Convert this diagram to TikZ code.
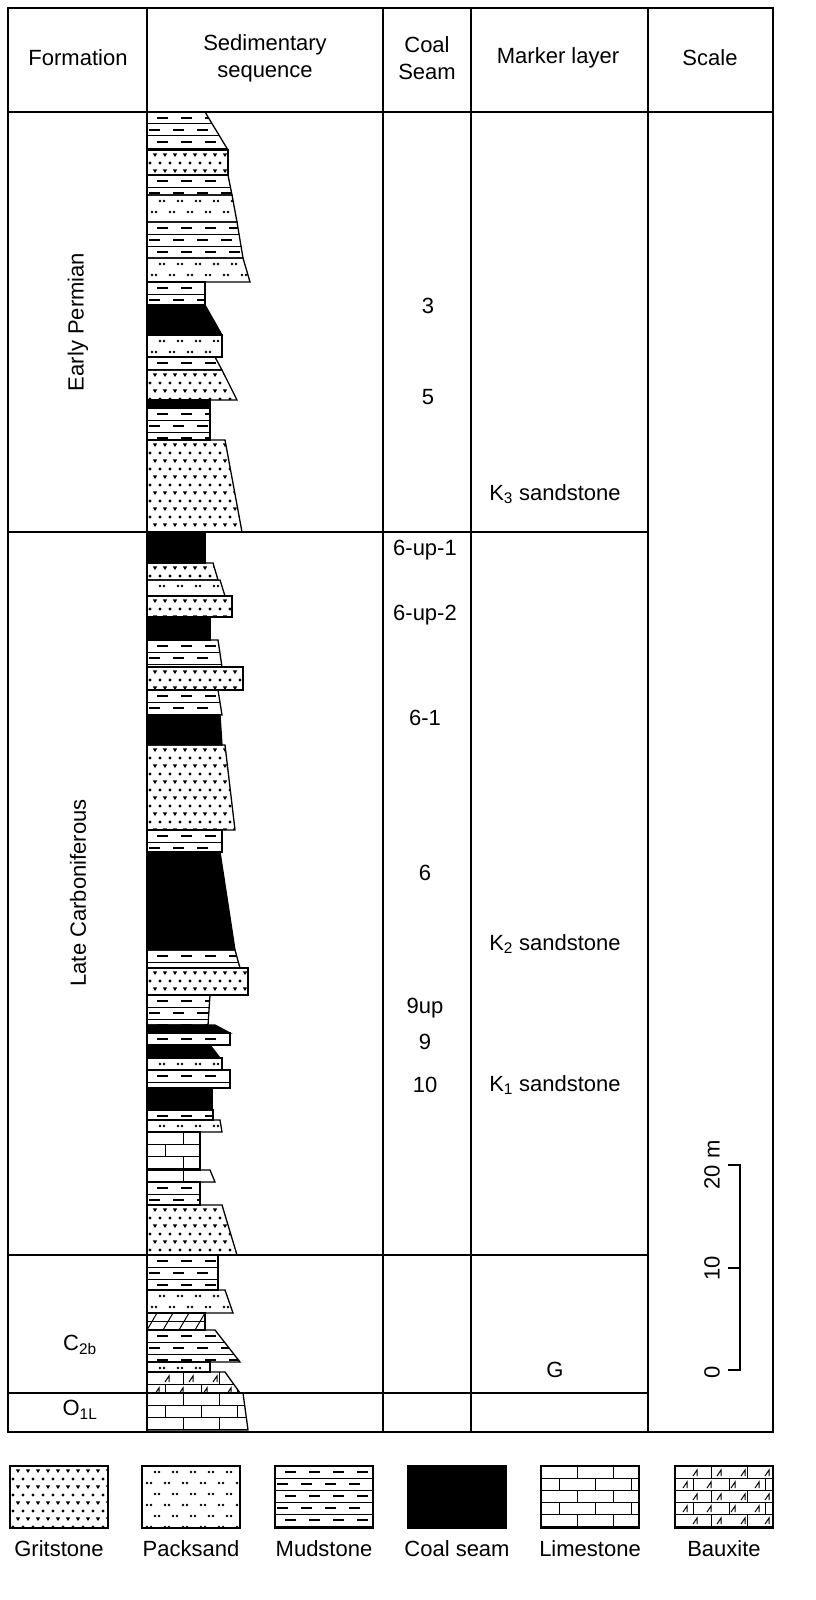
\documentclass[tikz,border=0pt]{standalone}
\usepackage{fontspec}
\setmainfont{Liberation Sans}
\newcommand\patgrit[4]{%
 \pgfmathsetmacro\gya{#2+5}\pgfmathsetmacro\gyb{#2+13}%
 \foreach \yy [count=\i] in {\gya,\gyb,...,#4}{%
   \pgfmathsetmacro\off{mod(\i,2)*5+#1+3}\pgfmathsetmacro\offb{\off+10}%
   \ifodd\i
   \foreach \xx in {\off,\offb,...,#3}{\fill (\xx-2.2,\yy-1.6)--(\xx+2.2,\yy-1.6)--(\xx,\yy+2)--cycle;}%
   \else
   \foreach \xx in {\off,\offb,...,#3}{\fill (\xx,\yy) circle[radius=1.6];}%
   \fi}}
\newcommand\patpack[4]{%
 \pgfmathsetmacro\gya{#2+6}\pgfmathsetmacro\gyb{#2+17}%
 \foreach \yy [count=\i] in {\gya,\gyb,...,#4}{%
   \pgfmathsetmacro\off{mod(\i,2)*8+#1+5}\pgfmathsetmacro\offb{\off+18}%
   \foreach \xx in {\off,\offb,...,#3}{\fill (\xx,\yy) circle[radius=1.3] (\xx+4,\yy) circle[radius=1.3];}}}
\newcommand\patmud[4]{%
 \pgfmathsetmacro\gya{#2+12}\pgfmathsetmacro\gyb{#2+24}%
 \foreach \yy in {\gya,\gyb,...,#4}{\draw[line width=1pt] (#1,\yy)--(#3,\yy);}%
 \pgfmathsetmacro\gya{#2+6}\pgfmathsetmacro\gyb{#2+18}%
 \foreach \yy [count=\i] in {\gya,\gyb,...,#4}{%
   \pgfmathsetmacro\off{mod(\i,2)*8+#1+2}\pgfmathsetmacro\offb{\off+24}%
   \foreach \xx in {\off,\offb,...,#3}{\draw[line width=1.8pt] (\xx,\yy)--(\xx+11,\yy);}}}
\newcommand\patcoal[4]{\fill[black] (#1,#2) rectangle (#3,#4);}
\newcommand\patlime[4]{%
 \pgfmathsetmacro\gya{#2+12}\pgfmathsetmacro\gyb{#2+24}%
 \foreach \yy in {\gya,\gyb,...,#4}{\draw[line width=1pt] (#1,\yy)--(#3,\yy);}%
 \pgfmathsetmacro\gya{#2}\pgfmathsetmacro\gyb{#2+12}%
 \foreach \yy [count=\i] in {\gya,\gyb,...,#4}{%
   \pgfmathsetmacro\off{mod(\i,2)*18+#1+18}\pgfmathsetmacro\offb{\off+36}%
   \foreach \xx in {\off,\offb,...,#3}{\draw[line width=1pt] (\xx,\yy)--(\xx,\yy+12);}}}
\newcommand\patbaux[4]{%
 \patlime{#1}{#2}{#3}{#4}%
 \pgfmathsetmacro\gya{#2+10}\pgfmathsetmacro\gyb{#2+22}%
 \foreach \yy [count=\i] in {\gya,\gyb,...,#4}{%
   \pgfmathsetmacro\off{mod(\i,2)*10+#1+8}\pgfmathsetmacro\offb{\off+24}%
   \foreach \xx in {\off,\offb,...,#3}{\draw[line width=1pt] (\xx,\yy)--(\xx+4,\yy-6)--(\xx+4,\yy);}}}
\newcommand\patmarl[4]{%
 \pgfmathsetmacro\gya{#2+8}\pgfmathsetmacro\gyb{#2+20}%
 \foreach \yy in {#2,\gya,...,#4}{\draw[line width=1pt] (#1,\yy)--(#3,\yy);}%
 \foreach \xx in {#1,\numexpr#1+16\relax,...,#3}{\draw[line width=1pt] (\xx,#4)--(\xx+10,#2);}}
\newcommand\lay[5]{%
 \begin{scope}\clip (147,#1)--(#3,#1)--(#4,#2)--(147,#2)--cycle;
 \csname pat#5\endcsname{147}{#1}{262}{#2}
 \end{scope}
 \draw[line width=1.3pt] (147,#1)--(#3,#1)--(#4,#2)--(147,#2);}
\newcommand\legbox[3]{%
 \begin{scope}\clip (#1,1466) rectangle (#1+98,1528);
 \csname pat#2\endcsname{#1}{1466}{\numexpr#1+98\relax}{1528}
 \end{scope}
 \draw[line width=1.3pt] (#1,1466) rectangle (#1+98,1528);
 \node[lab] (lg#2) at (#1+49,1549) {#3};}
\begin{document}
\begin{tikzpicture}[x=1pt,y=-1pt,
  lab/.style={font=\fontsize{22}{27}\selectfont,inner sep=0pt,align=center},
  tbl/.style={line width=2.2pt}]
\useasboundingbox (0,0) rectangle (815,1600);
% layers
\lay{112}{150}{205}{228}{mud}
\lay{150}{175}{228}{228}{grit}
\lay{175}{195}{228}{232}{mud}
\lay{195}{222}{232}{237}{pack}
\lay{222}{258}{237}{243}{mud}
\lay{258}{282}{243}{250}{pack}
\lay{282}{305}{205}{205}{mud}
\lay{305}{335}{205}{222}{coal}
\lay{335}{357}{222}{222}{pack}
\lay{357}{370}{215}{222}{mud}
\lay{370}{400}{222}{237}{grit}
\lay{400}{408}{210}{210}{coal}
\lay{408}{440}{210}{210}{mud}
\lay{440}{532}{225}{242}{grit}
\lay{532}{563}{205}{205}{coal}
\lay{563}{580}{213}{218}{grit}
\lay{580}{596}{220}{225}{pack}
\lay{596}{617}{232}{232}{grit}
\lay{617}{640}{210}{210}{coal}
\lay{640}{667}{218}{222}{mud}
\lay{667}{690}{243}{243}{grit}
\lay{690}{715}{218}{222}{mud}
\lay{715}{745}{220}{222}{coal}
\lay{745}{830}{225}{235}{grit}
\lay{830}{852}{222}{222}{mud}
\lay{852}{950}{220}{235}{coal}
\lay{950}{968}{235}{240}{mud}
\lay{968}{995}{248}{248}{grit}
\lay{995}{1025}{210}{208}{mud}
\lay{1025}{1033}{215}{230}{coal}
\lay{1033}{1045}{230}{230}{mud}
\lay{1045}{1058}{210}{220}{coal}
\lay{1058}{1070}{222}{222}{pack}
\lay{1070}{1088}{230}{230}{mud}
\lay{1088}{1110}{212}{212}{coal}
\lay{1110}{1120}{213}{213}{mud}
\lay{1120}{1132}{220}{222}{pack}
\lay{1132}{1170}{200}{200}{lime}
\lay{1170}{1182}{210}{215}{lime}
\lay{1182}{1205}{200}{200}{mud}
\lay{1205}{1255}{222}{237}{grit}
\lay{1255}{1290}{218}{218}{mud}
\lay{1290}{1313}{225}{233}{pack}
\lay{1313}{1330}{205}{205}{marl}
\lay{1330}{1362}{215}{240}{mud}
\lay{1362}{1372}{210}{210}{pack}
\lay{1372}{1393}{225}{240}{baux}
\lay{1393}{1430}{243}{248}{lime}
% table
\draw[tbl] (8,8) rectangle (773,1432);
\draw[tbl] (8,112)--(773,112);
\draw[tbl] (147,8)--(147,1432) (383,8)--(383,1432) (471,8)--(471,1432) (648,8)--(648,1432);
\draw[tbl] (8,532)--(648,532) (8,1255)--(648,1255) (8,1393)--(648,1393);
% headers
\node[lab] (h1) at (78,58) {Formation};
\node[lab] (h2) at (265,58) {Sedimentary\\sequence};
\node[lab] (h3) at (427,58) {Coal\\Seam};
\node[lab] (h4) at (558,58) {Marker layer};
\node[lab] (h5) at (710,58) {Scale};
% formations
\node[lab,rotate=90] (f1) at (78,322) {Early Permian};
\node[lab,rotate=90] (f2) at (78,893) {Late Carboniferous};
\node[lab] (f3) at (80,1345) {C\textsubscript{2b}};
\node[lab] (f4) at (80,1410) {O\textsubscript{1L}};
% seams
\node[lab] (s1) at (428,306) {3};
\node[lab] (s2) at (428,397) {5};
\node[lab] (s3) at (425,550) {6-up-1};
\node[lab] (s4) at (425,615) {6-up-2};
\node[lab] (s5) at (425,718) {6-1};
\node[lab] (s6) at (425,873) {6};
\node[lab] (s7) at (425,1008) {9up};
\node[lab] (s8) at (425,1042) {9};
\node[lab] (s9) at (425,1085) {10};
% markers
\node[lab] (m1) at (555,494) {K\textsubscript{3} sandstone};
\node[lab] (m2) at (555,944) {K\textsubscript{2} sandstone};
\node[lab] (m3) at (555,1085) {K\textsubscript{1} sandstone};
\node[lab] (m4) at (555,1370) {G};
% scale
\coordinate (st) at (740,1165);
\coordinate (sb) at (740,1370);
\draw[line width=1.6pt] (728,1165)--(st)--(sb)--(728,1370) (728,1268)--(740,1268);
\node[lab,rotate=90] (c20) at (712,1165) {20 m};
\node[lab,rotate=90] (c10) at (712,1268) {10};
\node[lab,rotate=90] (c0) at (712,1372) {0};
% legend
\legbox{10}{grit}{Gritstone}
\legbox{142}{pack}{Packsand}
\legbox{275}{mud}{Mudstone}
\legbox{408}{coal}{Coal seam}
\legbox{541}{lime}{Limestone}
\legbox{675}{baux}{Bauxite}
\end{tikzpicture}
\end{document}
